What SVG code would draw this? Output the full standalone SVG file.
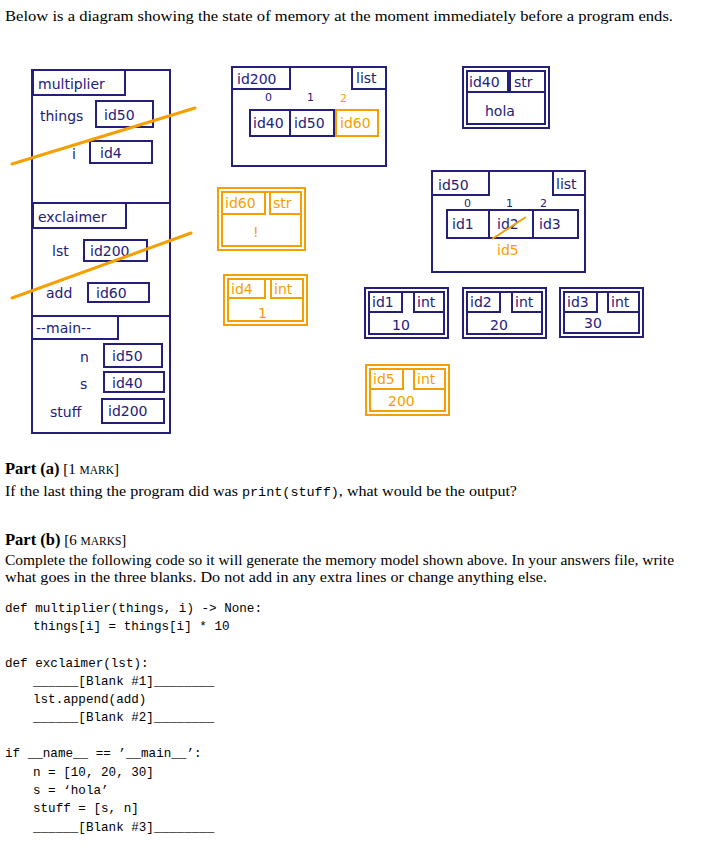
<svg xmlns="http://www.w3.org/2000/svg" width="701" height="852" viewBox="0 0 701 852">
<style>
.n{fill:none;stroke:#24207a;stroke-width:2}
.o{fill:none;stroke:#f5a000;stroke-width:2}
.h{font-family:"DejaVu Sans","Liberation Sans",sans-serif;font-size:14px;fill:#24207a}
.ho{font-family:"DejaVu Sans","Liberation Sans",sans-serif;font-size:14px;fill:#f5a000}
.s{font-size:11px}
.t{font-family:"Liberation Serif",serif;font-size:15px;fill:#000}
.c{font-family:"Liberation Mono",monospace;font-size:12.6px;fill:#000}
.strike{stroke:#f5a000;stroke-width:3;stroke-linecap:round}
</style>
<rect width="701" height="852" fill="#fff"/>
<text class="t" x="5" y="21" textLength="668" lengthAdjust="spacingAndGlyphs">Below is a diagram showing the state of memory at the moment immediately before a program ends.</text>

<g id="stack">
<rect class="n" x="32" y="70" width="138" height="363"/>
<line class="n" x1="32" y1="203" x2="170" y2="203"/>
<line class="n" x1="32" y1="316" x2="170" y2="316"/>
<rect class="n" x="33" y="70" width="92" height="25"/><text class="h" x="38" y="89">multiplier</text>
<text class="h" x="40" y="121">things</text><rect class="n" x="96" y="101" width="57" height="26"/><text class="h" x="104" y="120">id50</text>
<text class="h" x="72" y="159">i</text><rect class="n" x="90" y="141" width="62" height="22"/><text class="h" x="100" y="158">id4</text>
<rect class="n" x="33" y="203" width="93" height="25"/><text class="h" x="38" y="222">exclaimer</text>
<text class="h" x="52" y="256">lst</text><rect class="n" x="84" y="240" width="63" height="21"/><text class="h" x="90" y="256">id200</text>
<text class="h" x="46" y="298">add</text><rect class="n" x="88" y="283" width="61" height="19"/><text class="h" x="96" y="298">id60</text>
<rect class="n" x="32" y="316" width="86" height="23"/><text class="h" x="36" y="333">--main--</text>
<text class="h" x="80" y="362">n</text><rect class="n" x="104" y="344" width="58" height="23"/><text class="h" x="112" y="361">id50</text>
<text class="h" x="80" y="389">s</text><rect class="n" x="104" y="372" width="60" height="20"/><text class="h" x="112" y="388">id40</text>
<text class="h" x="50" y="417">stuff</text><rect class="n" x="102" y="399" width="62" height="24"/><text class="h" x="108" y="416">id200</text>
<line class="strike" x1="12" y1="164" x2="195" y2="108"/>
<line class="strike" x1="12" y1="298" x2="191" y2="233"/>
</g>

<g id="id200">
<rect class="n" x="232" y="67" width="154" height="99"/>
<rect class="n" x="232" y="67" width="58" height="22"/><text class="h" x="237" y="84">id200</text>
<rect class="n" x="352" y="67" width="34" height="22"/><text class="h" x="356" y="83">list</text>
<text class="h s" x="265" y="101">0</text><text class="h s" x="307" y="101">1</text><text class="ho s" x="340" y="102">2</text>
<rect class="n" x="250" y="110" width="40" height="26"/><text class="h" x="253" y="128">id40</text>
<rect class="n" x="290" y="110" width="44" height="26"/><text class="h" x="294" y="128">id50</text>
<rect class="o" x="336" y="110" width="42" height="26"/><text class="ho" x="340" y="128">id60</text>
</g>

<g id="id40">
<rect class="n" x="463" y="67" width="86" height="61"/><rect class="n" x="467" y="71" width="78" height="53"/>
<rect class="n" x="467" y="71" width="41" height="21"/><text class="h" x="469" y="87">id40</text>
<rect class="n" x="510" y="71" width="35" height="21"/><text class="h" x="514" y="87">str</text>
<text class="h" x="485" y="116" font-size="17">hola</text>
</g>

<g id="id60">
<rect class="o" x="218" y="188" width="87" height="62"/><rect class="o" x="222" y="192" width="79" height="54"/>
<rect class="o" x="222" y="192" width="43" height="22"/><text class="ho" x="225" y="208">id60</text>
<rect class="o" x="270" y="192" width="31" height="22"/><text class="ho" x="273" y="208">str</text>
<text class="ho" x="253" y="237">!</text>
</g>

<g id="id4">
<rect class="o" x="224" y="275" width="83" height="50"/><rect class="o" x="228" y="279" width="75" height="42"/>
<rect class="o" x="228" y="279" width="37" height="19"/><text class="ho" x="231" y="294">id4</text>
<rect class="o" x="271" y="279" width="32" height="19"/><text class="ho" x="274" y="294">int</text>
<text class="ho" x="258" y="318" font-size="16">1</text>
</g>

<g id="id50">
<rect class="n" x="432" y="171" width="153" height="101"/>
<rect class="n" x="432" y="171" width="57" height="24"/><text class="h" x="438" y="190">id50</text>
<rect class="n" x="553" y="171" width="32" height="24"/><text class="h" x="556" y="189">list</text>
<text class="h s" x="464" y="207">0</text><text class="h s" x="506" y="207">1</text><text class="h s" x="540" y="207">2</text>
<rect class="n" x="447" y="210" width="42" height="28"/><text class="h" x="452" y="229">id1</text>
<rect class="n" x="489" y="210" width="44" height="28"/><text class="h" x="497" y="229">id2</text>
<rect class="n" x="533" y="210" width="45" height="28"/><text class="h" x="539" y="229">id3</text>
<line class="o" x1="492" y1="239" x2="526" y2="217"/>
<text class="ho" x="497" y="255">id5</text>
</g>

<g id="id1">
<rect class="n" x="365" y="288" width="83" height="50"/><rect class="n" x="369" y="292" width="75" height="42"/>
<rect class="n" x="369" y="292" width="33" height="20"/><text class="h" x="372" y="307">id1</text>
<rect class="n" x="414" y="292" width="30" height="20"/><text class="h" x="417" y="307">int</text>
<text class="h" x="392" y="330" font-size="15">10</text>
</g>
<g id="id2">
<rect class="n" x="463" y="288" width="83" height="50"/><rect class="n" x="467" y="292" width="75" height="42"/>
<rect class="n" x="467" y="292" width="33" height="20"/><text class="h" x="470" y="307">id2</text>
<rect class="n" x="512" y="292" width="30" height="20"/><text class="h" x="515" y="307">int</text>
<text class="h" x="490" y="330" font-size="15">20</text>
</g>
<g id="id3">
<rect class="n" x="560" y="288" width="83" height="49"/><rect class="n" x="564" y="292" width="75" height="41"/>
<rect class="n" x="564" y="292" width="33" height="20"/><text class="h" x="567" y="307">id3</text>
<rect class="n" x="608" y="292" width="31" height="20"/><text class="h" x="611" y="307">int</text>
<text class="h" x="584" y="328" font-size="15">30</text>
</g>
<g id="id5">
<rect class="o" x="366" y="365" width="83" height="50"/><rect class="o" x="370" y="369" width="75" height="42"/>
<rect class="o" x="370" y="369" width="33" height="20"/><text class="ho" x="373" y="384">id5</text>
<rect class="o" x="414" y="369" width="31" height="20"/><text class="ho" x="417" y="384">int</text>
<text class="ho" x="388" y="406" font-size="15">200</text>
</g>

<g id="connectors"></g>

<text class="t" x="5" y="474"><tspan font-weight="bold" font-size="16.5">Part (a)</tspan>  [1 <tspan font-size="11.5">MARK</tspan>]</text>
<text class="t" x="5" y="496" textLength="512" lengthAdjust="spacingAndGlyphs">If the last thing the program did was <tspan class="c">print(stuff)</tspan>, what would be the output?</text>
<text class="t" x="5" y="545"><tspan font-weight="bold" font-size="16.5">Part (b)</tspan>  [6 <tspan font-size="11.5">MARKS</tspan>]</text>
<text class="t" x="5" y="565" textLength="669" lengthAdjust="spacingAndGlyphs">Complete the following code so it will generate the memory model shown above. In your answers file, write</text>
<text class="t" x="5" y="582" textLength="542" lengthAdjust="spacingAndGlyphs">what goes in the three blanks. Do not add in any extra lines or change anything else.</text>
<g>
<text class="c" x="5" y="612">def multiplier(things, i) -&gt; None:</text>
<text class="c" x="33" y="630">things[i] = things[i] * 10</text>
<text class="c" x="5" y="667">def exclaimer(lst):</text>
<text class="c" x="33" y="685">______[Blank #1]________</text>
<text class="c" x="33" y="703">lst.append(add)</text>
<text class="c" x="33" y="721">______[Blank #2]________</text>
<text class="c" x="5" y="757">if __name__ == ’__main__’:</text>
<text class="c" x="33" y="776">n = [10, 20, 30]</text>
<text class="c" x="33" y="794">s = ‘hola’</text>
<text class="c" x="33" y="812">stuff = [s, n]</text>
<text class="c" x="33" y="831">______[Blank #3]________</text>
</g>
</svg>
